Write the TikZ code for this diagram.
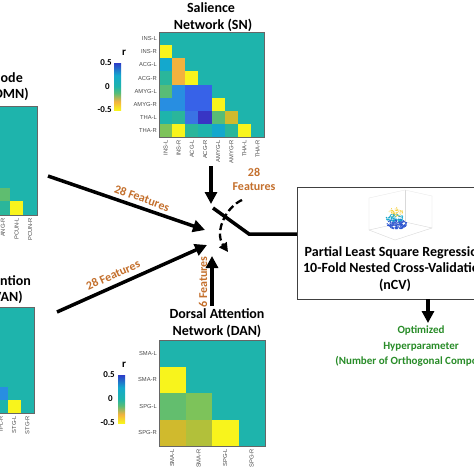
\documentclass[tikz,border=0pt]{standalone}
\usepackage{fontspec}
\setmainfont{Carlito}
\newfontfamily\labfont{Liberation Sans}
\usetikzlibrary{arrows.meta}
\definecolor{pyel}{RGB}{248,244,28}
\definecolor{porg}{RGB}{243,178,62}
\definecolor{pcyan}{RGB}{20,168,205}
\definecolor{pteal}{RGB}{30,180,172}
\definecolor{ptg}{RGB}{42,182,155}
\definecolor{pgrn}{RGB}{88,188,118}
\definecolor{plgrn}{RGB}{125,195,90}
\definecolor{pblu}{RGB}{40,142,225}
\definecolor{pblu2}{RGB}{55,98,232}
\definecolor{pblu3}{RGB}{58,115,228}
\definecolor{ppur}{RGB}{56,53,196}
\definecolor{polv}{RGB}{208,186,45}
\definecolor{pyg}{RGB}{178,192,58}
\definecolor{pdblue}{RGB}{45,60,200}
\definecolor{featc}{RGB}{196,112,45}
\definecolor{greenc}{RGB}{40,140,40}
\pgfdeclareverticalshading{parulabar}{100bp}{color(0bp)=(pyel); color(25bp)=(pyel); color(34bp)=(porg); color(43bp)=(pgrn); color(50bp)=(pteal); color(62bp)=(pcyan); color(75bp)=(pdblue); color(100bp)=(pdblue)}
\begin{document}
\begin{tikzpicture}[x=1pt,y=-1pt,
  title/.style={font=\fontsize{14}{17}\selectfont\bfseries, text=black, inner sep=0pt},
  feat/.style={font=\fontsize{12}{14}\selectfont\bfseries, text=featc, inner sep=0pt},
  axl/.style={font=\labfont\fontsize{5.8}{6}\selectfont, text=black!70, inner sep=0pt},
  tickl/.style={font=\fontsize{9}{10}\selectfont\bfseries, inner sep=0pt},
  rlab/.style={font=\fontsize{11}{12}\selectfont\bfseries, inner sep=0pt},
  bigarrow/.style={line width=3.5pt, -{Triangle[length=12pt,width=12pt]}},
  mframe/.style={draw=black!60, line width=0.5pt},
  boxtext/.style={font=\fontsize{14}{16.5}\selectfont\bfseries, align=center, inner sep=0pt},
  greentext/.style={font=\fontsize{11}{15.5}\selectfont\bfseries, text=greenc, align=center, inner sep=0pt}]
\useasboundingbox (0,0) rectangle (474,474);
\clip (0,0) rectangle (474,474);
\fill[white] (0,0) rectangle (474,474);

% ---------- DMN (cropped at left) ----------
\node[title, anchor=east] (dmnT1) at (23,78) {Default Mode};
\node[title, anchor=east] (dmnT2) at (29,94) {Network (DMN)};
\fill[pteal] (-72,106) rectangle (37,215);
\fill[pgrn!80!plgrn] (-3.8,187.8) rectangle (9.8,201.4);
\fill[ptg] (-3.8,201.4) rectangle (9.8,215);
\fill[pyel] (9.8,201.4) rectangle (23.4,215);
\draw[mframe] (-72,106) rectangle (37,215);
\node[axl, anchor=east, rotate=90] (dmnL6) at (3,218) {ANG-R};
\node[axl, anchor=east, rotate=90] (dmnL7) at (16.6,218) {PCUN-L};
\node[axl, anchor=east, rotate=90] (dmnL8) at (30.2,218) {PCUN-R};

% ---------- VAN (cropped at left) ----------
\node[title, anchor=east] (vanT1) at (31,281) {Ventral Attention};
\node[title, anchor=east] (vanT2) at (23,297) {Network (VAN)};
\fill[pteal] (-72,307) rectangle (34,413);
\fill[pblu] (-5.75,386.5) rectangle (7.5,399.75);
\fill[pyel] (7.5,399.75) rectangle (20.75,413);
\draw[mframe] (-72,307) rectangle (34,413);
\node[axl, anchor=east, rotate=90] (vanL6) at (0.9,416) {IPL-R};
\node[axl, anchor=east, rotate=90] (vanL7) at (14.1,416) {STG-L};
\node[axl, anchor=east, rotate=90] (vanL8) at (27.4,416) {STG-R};

% ---------- SN ----------
\node[title] (snT1) at (211,8) {Salience};
\node[title] (snT2) at (213,25) {Network (SN)};
\shade[shading=parulabar] (114,63) rectangle (121,110);
\node[rlab] (snR) at (124,53) {r};
\node[tickl, anchor=east] (snK1) at (112,63) {0.5};
\node[tickl, anchor=east] (snK2) at (110,87) {0};
\node[tickl, anchor=east] (snK3) at (112,110) {-0.5};
\fill[pteal] (159,32) rectangle (264.2,137.2);
\foreach \r/\c/\k in {2/1/pyel, 3/1/pcyan, 3/2/porg, 4/1/ptg, 4/2/porg, 4/3/pyel,
  5/1/pgrn, 5/2/pblu, 5/3/pblu2, 5/4/pblu2, 6/1/pblu, 6/2/pblu, 6/3/pblu2, 6/4/pblu2, 6/5/pyel,
  7/1/pteal, 7/2/ptg, 7/3/pblu3, 7/4/ppur, 7/5/pgrn, 7/6/polv,
  8/1/plgrn, 8/2/pyel, 8/3/ptg, 8/4/pteal, 8/5/pcyan, 8/6/ptg, 8/7/pyel}
  \fill[\k] ({159+(\c-1)*13.15},{32+(\r-1)*13.15}) rectangle ++(13.15,13.15);
\draw[mframe] (159,32) rectangle (264.2,137.2);
\foreach \t [count=\i] in {INS-L,INS-R,ACG-L,ACG-R,AMYG-L,AMYG-R,THA-L,THA-R}{
  \node[axl, anchor=east] (snRow\i) at (157,{32+(\i-0.5)*13.15}) {\t};
  \node[axl, anchor=east, rotate=90] (snCol\i) at ({159+(\i-0.5)*13.15},140) {\t};
}

% ---------- DAN ----------
\node[title] (danT1) at (217,314) {Dorsal Attention};
\node[title] (danT2) at (217,331) {Network (DAN)};
\shade[shading=parulabar] (118,375) rectangle (125,423);
\node[rlab] (danR) at (124,365) {r};
\node[tickl, anchor=east] (danK1) at (115,375) {0.5};
\node[tickl, anchor=east] (danK2) at (113,399) {0};
\node[tickl, anchor=east] (danK3) at (115,423) {-0.5};
\fill[pteal] (159,340) rectangle (265,446);
\foreach \r/\c/\k in {2/1/pyel, 3/1/pgrn!70!plgrn, 3/2/plgrn, 4/1/polv, 4/2/pyg, 4/3/pyel}
  \fill[\k] ({159+(\c-1)*26.5},{340+(\r-1)*26.5}) rectangle ++(26.5,26.5);
\draw[mframe] (159,340) rectangle (265,446);
\foreach \t [count=\i] in {SMA-L,SMA-R,SPG-L,SPG-R}{
  \node[axl, anchor=east] (danRow\i) at (157,{340+(\i-0.5)*26.5}) {\t};
  \node[axl, anchor=east, rotate=90] (danCol\i) at ({159+(\i-0.5)*26.5},449) {\t};
}

% ---------- connectors ----------
\coordinate (dmnOut) at (48,176);
\coordinate (dmnIn) at (205,230);
\coordinate (vanOut) at (57,312);
\coordinate (vanIn) at (207,245);
\coordinate (danOut) at (212,306);
\coordinate (danIn) at (212,256);
\coordinate (snOut) at (211,166);
\coordinate (snIn) at (211,204);
\draw[bigarrow] (dmnOut) -- (dmnIn);
\draw[bigarrow] (vanOut) -- (vanIn);
\draw[bigarrow] (danOut) -- (danIn);
\draw[bigarrow] (snOut) -- (snIn);
\node[feat, rotate=-20] (dmnF) at (142,198) {28 Features};
\node[feat, rotate=24] (vanF) at (113,275) {28 Features};
\node[feat, rotate=90] (danF) at (203,282) {6 Features};
\node[feat] (snF1) at (254,172) {28};
\node[feat] (snF2) at (254,187) {Features};

% switch
\coordinate (swA) at (213,208);
\coordinate (swB) at (249,234);
\coordinate (dashS) at (242,200);
\coordinate (dashE) at (228,252);
\draw[line width=3.5pt, line join=miter] (swA) -- (swB) -- (297,234);
\draw[line width=2.3pt, dash pattern=on 7pt off 3.5pt, -{Triangle[length=9pt,width=9pt]}]
  (dashS) .. controls (226,207) and (214,232) .. (dashE);

% ---------- PLS box ----------
\node[draw=black!75, line width=1pt, minimum width=190pt, minimum height=112pt, anchor=north west, inner sep=0pt] (pls) at (297,187) {};
% scatter icon
\draw[black!15, line width=0.4pt] (369,198) -- (369,230) -- (395,240) -- (432,228) -- (432,196);
\draw[black!15, line width=0.4pt] (369,230) -- (405,222) -- (432,228);
\draw[black!15, line width=0.4pt] (405,222) -- (405,190);
\draw[black!10, line width=0.3pt] (369,198) -- (405,190) -- (432,196);
\pgfmathsetseed{7}
\foreach \i in {1,...,160}{
  \pgfmathsetmacro\ang{rnd*360}\pgfmathsetmacro\rad{sqrt(rnd)}
  \fill[pdblue!70!pblu] ({397+10*\rad*cos(\ang)},{224+5*\rad*sin(\ang)}) circle (0.7);
}
\foreach \i in {1,...,90}{
  \pgfmathsetmacro\ang{rnd*360}\pgfmathsetmacro\rad{sqrt(rnd)}
  \fill[pcyan] ({395+9*\rad*cos(\ang)},{218+4*\rad*sin(\ang)}) circle (0.6);
}
\foreach \i in {1,...,60}{
  \pgfmathsetmacro\ang{rnd*360}\pgfmathsetmacro\rad{sqrt(rnd)}
  \fill[porg!60!pyel] ({396+7*\rad*cos(\ang)},{212+5*\rad*sin(\ang)}) circle (0.5);
}
\node[boxtext, anchor=north] (plsText) at (395,246) {Partial Least Square Regression\\10-Fold Nested Cross-Validation\\(nCV)};
\coordinate (plsOut) at (428,299);
\coordinate (optIn) at (428,323);
\draw[bigarrow] (plsOut) -- (optIn);
\node[greentext, anchor=north] (opt) at (421,326) {Optimized\\Hyperparameter\\(Number of Orthogonal Components)};
\end{tikzpicture}
\end{document}
